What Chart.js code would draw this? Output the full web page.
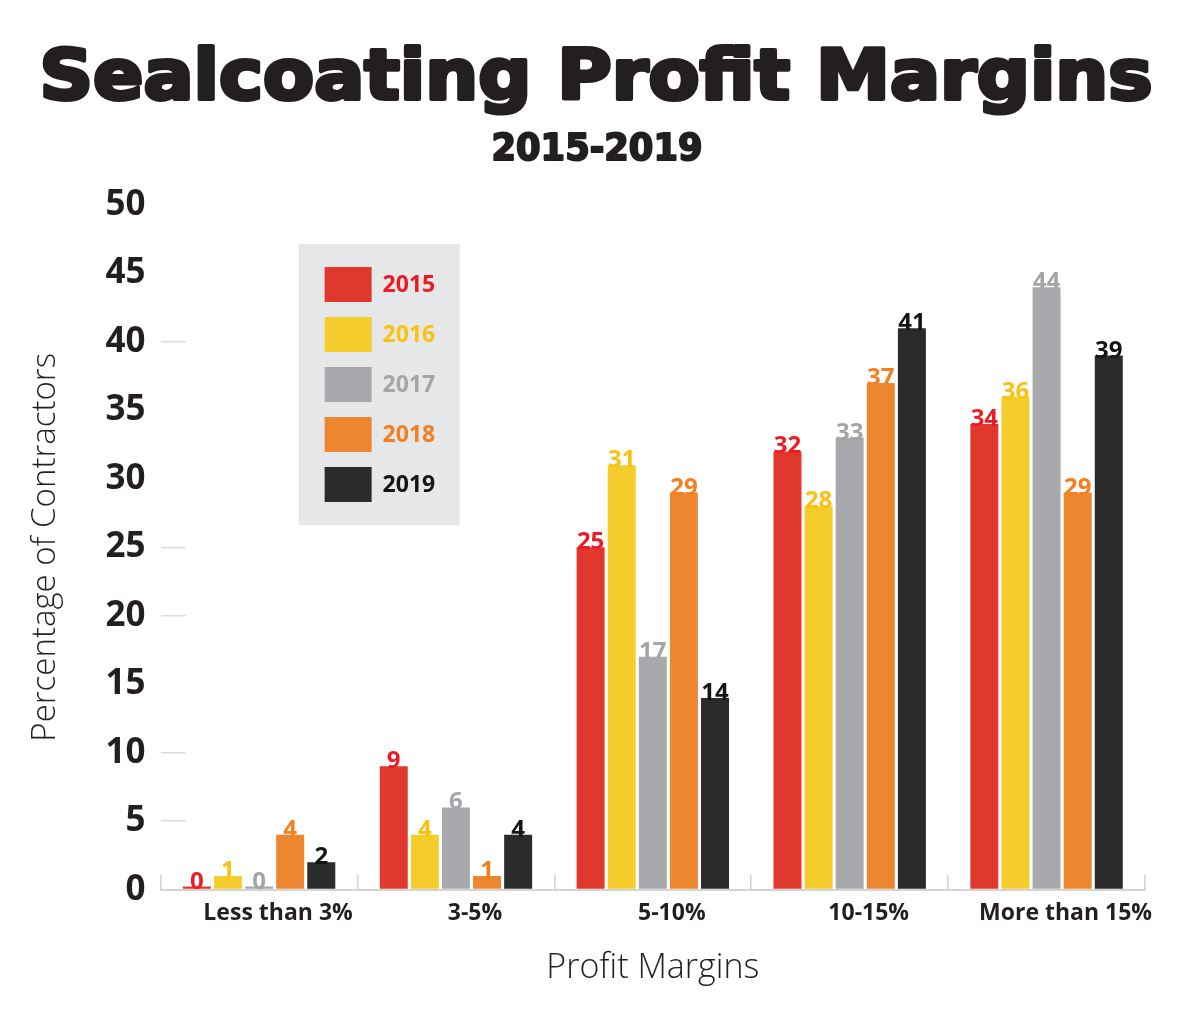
<!DOCTYPE html>
<html>
<head>
<meta charset="utf-8">
<script src="https://cdn.jsdelivr.net/npm/chart.js@4.4.0/dist/chart.umd.min.js"></script>
<style>
  html, body { margin: 0; padding: 0; background: #fff; }
  canvas { display: block; }
</style>
</head>
<body>
<canvas id="profitChart" width="1200" height="1021"></canvas>
<script>
// Chart data
const categories = ['Less than 3%', '3-5%', '5-10%', '10-15%', 'More than 15%'];
const years = ['2015', '2016', '2017', '2018', '2019'];
const values2015 = [0, 9, 25, 32, 34];
const values2016 = [1, 4, 31, 28, 36];
const values2017 = [0, 6, 17, 33, 44];
const values2018 = [4, 1, 29, 37, 29];
const values2019 = [2, 4, 14, 41, 39];
const yMin = 0;
const yMax = 50;
const yStep = 5;

// Colours
const barColors = ['#e1382e', '#f4cd2c', '#a7a9ac', '#ec8730', '#2b2b2b'];
const textColors = ['#ed1c24', '#fcc10f', '#a3a5a8', '#f47e20', '#151515'];
const inkColor = '#231f20';

const seriesValues = [values2015, values2016, values2017, values2018, values2019];

/**
 * Draw text squeezed/stretched to a given width
 */
function drawFittedText(ctx, text, font, cx, baseline, width, stroke) {
  ctx.save();
  ctx.font = font;
  const w = ctx.measureText(text).width;
  ctx.translate(cx, baseline);
  ctx.scale((width - stroke) / w, 1);
  ctx.textAlign = 'center';
  ctx.textBaseline = 'alphabetic';
  ctx.fillStyle = inkColor;
  ctx.strokeStyle = inkColor;
  ctx.lineWidth = stroke;
  ctx.lineJoin = 'round';
  ctx.strokeText(text, 0, 0);
  ctx.fillText(text, 0, 0);
  ctx.restore();
}

// Heavy headline + subtitle
const headerPlugin = {
  id: 'headerPlugin',
  afterDraw(chart) {
    const ctx = chart.ctx;
    drawFittedText(ctx, 'Sealcoating Profit Margins', 'bold 70px "DejaVu Sans"', 596, 99, 1117, 4);
    drawFittedText(ctx, '2015-2019', 'bold 37px "DejaVu Sans"', 597, 160, 213, 2);
  }
};

// Values printed on top of each bar
const valueLabelPlugin = {
  id: 'valueLabelPlugin',
  afterDatasetsDraw(chart) {
    const ctx = chart.ctx;
    chart.data.datasets.forEach((ds, i) => {
      const meta = chart.getDatasetMeta(i);
      meta.data.forEach((bar, j) => {
        ctx.save();
        ctx.fillStyle = textColors[i];
        ctx.font = 'bold 24px "Open Sans"';
        ctx.textAlign = 'center';
        ctx.textBaseline = 'alphabetic';
        ctx.fillText(String(ds.data[j]), bar.x, bar.y + 2);
        ctx.restore();
      });
    });
  }
};

// Legend box inside the plot
const legendBoxPlugin = {
  id: 'legendBoxPlugin',
  afterDatasetsDraw(chart) {
    const ctx = chart.ctx;
    const area = chart.chartArea;
    const x0 = area.left + 138;
    const y0 = area.top + 39;
    ctx.save();
    ctx.fillStyle = '#e6e7e8';
    ctx.fillRect(x0, y0, 161, 281);
    chart.data.datasets.forEach((ds, i) => {
      const rowY = y0 + 23 + i * 50;
      ctx.fillStyle = barColors[i];
      ctx.fillRect(x0 + 26, rowY, 47, 35);
      ctx.fillStyle = textColors[i];
      ctx.font = 'bold 23px "Open Sans"';
      ctx.textAlign = 'left';
      ctx.textBaseline = 'middle';
      ctx.fillText(ds.label, x0 + 84, rowY + 18);
    });
    ctx.restore();
  }
};

const datasets = years.map((year, i) => ({
  label: year,
  data: seriesValues[i],
  backgroundColor: barColors[i],
  borderWidth: 0,
  minBarLength: 3,
  barPercentage: 0.9,
  categoryPercentage: 0.79
}));

new Chart(document.getElementById('profitChart'), {
  type: 'bar',
  data: { labels: categories, datasets },
  options: {
    responsive: false,
    animation: false,
    layout: {
      padding: { top: 205, right: 55, left: 26, bottom: 32 }
    },
    plugins: {
      legend: { display: false },
      tooltip: { enabled: false }
    },
    scales: {
      x: {
        grid: {
          offset: true,
          drawOnChartArea: false,
          drawTicks: true,
          tickLength: -15,
          color: '#d4d4d4',
          lineWidth: 1.5
        },
        border: { display: true, color: '#d4d4d4', width: 2 },
        ticks: {
          color: inkColor,
          padding: 25,
          labelOffset: 19,
          font: { family: '"Open Sans"', weight: 'bold', size: 23 }
        },
        title: {
          display: true,
          text: 'Profit Margins',
          color: inkColor,
          padding: { top: -4, bottom: 0 },
          font: { family: '"Open Sans"', weight: '300', size: 34 }
        }
      },
      y: {
        min: yMin,
        max: yMax,
        grid: {
          drawOnChartArea: false,
          drawTicks: true,
          tickLength: -25,
          color: (c) => [5, 10, 20, 25, 40].includes(c.tick.value) ? '#dcdcdc' : 'rgba(0,0,0,0)',
          lineWidth: 1.5
        },
        border: { display: false },
        ticks: {
          stepSize: yStep,
          color: inkColor,
          padding: 40,
          font: { family: '"Open Sans"', weight: 'bold', size: 35 }
        },
        title: {
          display: true,
          text: 'Percentage of Contractors',
          color: inkColor,
          padding: { top: 0, bottom: 0 },
          font: { family: '"Open Sans"', weight: '300', size: 33 }
        }
      }
    }
  },
  plugins: [headerPlugin, valueLabelPlugin, legendBoxPlugin]
});
</script>
</body>
</html>
